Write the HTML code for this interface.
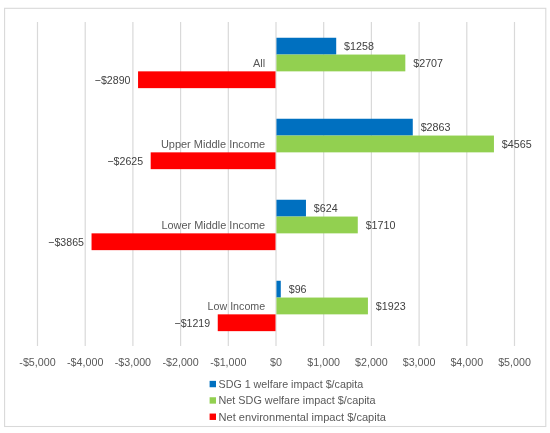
<!DOCTYPE html>
<html><head><meta charset="utf-8"><title>Chart</title>
<style>
html,body{margin:0;padding:0;background:#fff;}
body{width:550px;height:433px;overflow:hidden;}
svg{display:block;}
text{font-family:"Liberation Sans",sans-serif;font-size:11px;}
.ax{fill:#595959;}
.dl{fill:#404040;}
</style></head><body>
<svg width="550" height="433" viewBox="0 0 550 433">
<rect x="0" y="0" width="550" height="433" fill="#ffffff"/>
<rect x="4.6" y="8.3" width="541.2" height="418.2" fill="#ffffff" stroke="#d9d9d9" stroke-width="1.1"/>

<line x1="37.50" y1="22" x2="37.50" y2="346" stroke="#d9d9d9" stroke-width="1.2"/>
<line x1="85.20" y1="22" x2="85.20" y2="346" stroke="#d9d9d9" stroke-width="1.2"/>
<line x1="132.90" y1="22" x2="132.90" y2="346" stroke="#d9d9d9" stroke-width="1.2"/>
<line x1="180.60" y1="22" x2="180.60" y2="346" stroke="#d9d9d9" stroke-width="1.2"/>
<line x1="228.30" y1="22" x2="228.30" y2="346" stroke="#d9d9d9" stroke-width="1.2"/>
<line x1="276.00" y1="22" x2="276.00" y2="346" stroke="#d9d9d9" stroke-width="1.2"/>
<line x1="323.70" y1="22" x2="323.70" y2="346" stroke="#d9d9d9" stroke-width="1.2"/>
<line x1="371.40" y1="22" x2="371.40" y2="346" stroke="#d9d9d9" stroke-width="1.2"/>
<line x1="419.10" y1="22" x2="419.10" y2="346" stroke="#d9d9d9" stroke-width="1.2"/>
<line x1="466.80" y1="22" x2="466.80" y2="346" stroke="#d9d9d9" stroke-width="1.2"/>
<line x1="514.50" y1="22" x2="514.50" y2="346" stroke="#d9d9d9" stroke-width="1.2"/>
<rect x="276.45" y="37.75" width="59.76" height="16.80" fill="#0070c0"/>
<text class="dl" x="344.11" y="50.15" textLength="29.81" lengthAdjust="spacingAndGlyphs">$1258</text>
<rect x="276.45" y="54.55" width="128.87" height="16.80" fill="#92d050"/>
<text class="dl" x="413.22" y="66.95" textLength="29.81" lengthAdjust="spacingAndGlyphs">$2707</text>
<rect x="138.05" y="71.35" width="137.45" height="16.80" fill="#ff0000"/>
<text class="dl" x="94.78" y="83.75" textLength="35.66" lengthAdjust="spacingAndGlyphs">−$2890</text>
<text class="ax" x="253.00" y="66.70" textLength="12.20" lengthAdjust="spacingAndGlyphs">All</text>
<rect x="276.45" y="118.75" width="136.32" height="16.80" fill="#0070c0"/>
<text class="dl" x="420.67" y="131.15" textLength="29.81" lengthAdjust="spacingAndGlyphs">$2863</text>
<rect x="276.45" y="135.55" width="217.50" height="16.80" fill="#92d050"/>
<text class="dl" x="501.85" y="147.95" textLength="29.81" lengthAdjust="spacingAndGlyphs">$4565</text>
<rect x="150.69" y="152.35" width="124.81" height="16.80" fill="#ff0000"/>
<text class="dl" x="107.42" y="164.75" textLength="35.66" lengthAdjust="spacingAndGlyphs">−$2625</text>
<text class="ax" x="160.89" y="147.70" textLength="104.31" lengthAdjust="spacingAndGlyphs">Upper Middle Income</text>
<rect x="276.45" y="199.75" width="29.51" height="16.80" fill="#0070c0"/>
<text class="dl" x="313.86" y="212.15" textLength="23.84" lengthAdjust="spacingAndGlyphs">$624</text>
<rect x="276.45" y="216.55" width="81.32" height="16.80" fill="#92d050"/>
<text class="dl" x="365.67" y="228.95" textLength="29.81" lengthAdjust="spacingAndGlyphs">$1710</text>
<rect x="91.54" y="233.35" width="183.96" height="16.80" fill="#ff0000"/>
<text class="dl" x="48.28" y="245.75" textLength="35.66" lengthAdjust="spacingAndGlyphs">−$3865</text>
<text class="ax" x="161.40" y="228.70" textLength="103.80" lengthAdjust="spacingAndGlyphs">Lower Middle Income</text>
<rect x="276.45" y="280.75" width="4.33" height="16.80" fill="#0070c0"/>
<text class="dl" x="288.68" y="293.15" textLength="17.88" lengthAdjust="spacingAndGlyphs">$96</text>
<rect x="276.45" y="297.55" width="91.48" height="16.80" fill="#92d050"/>
<text class="dl" x="375.83" y="309.95" textLength="29.81" lengthAdjust="spacingAndGlyphs">$1923</text>
<rect x="217.75" y="314.35" width="57.75" height="16.80" fill="#ff0000"/>
<text class="dl" x="174.49" y="326.75" textLength="35.66" lengthAdjust="spacingAndGlyphs">−$1219</text>
<text class="ax" x="207.56" y="309.70" textLength="57.64" lengthAdjust="spacingAndGlyphs">Low Income</text>
<text class="ax" x="19.33" y="365.60" textLength="36.34" lengthAdjust="spacingAndGlyphs">-$5,000</text>
<text class="ax" x="67.03" y="365.60" textLength="36.34" lengthAdjust="spacingAndGlyphs">-$4,000</text>
<text class="ax" x="114.73" y="365.60" textLength="36.34" lengthAdjust="spacingAndGlyphs">-$3,000</text>
<text class="ax" x="162.43" y="365.60" textLength="36.34" lengthAdjust="spacingAndGlyphs">-$2,000</text>
<text class="ax" x="210.13" y="365.60" textLength="36.34" lengthAdjust="spacingAndGlyphs">-$1,000</text>
<text class="ax" x="270.04" y="365.60" textLength="11.93" lengthAdjust="spacingAndGlyphs">$0</text>
<text class="ax" x="307.33" y="365.60" textLength="32.74" lengthAdjust="spacingAndGlyphs">$1,000</text>
<text class="ax" x="355.03" y="365.60" textLength="32.74" lengthAdjust="spacingAndGlyphs">$2,000</text>
<text class="ax" x="402.73" y="365.60" textLength="32.74" lengthAdjust="spacingAndGlyphs">$3,000</text>
<text class="ax" x="450.43" y="365.60" textLength="32.74" lengthAdjust="spacingAndGlyphs">$4,000</text>
<text class="ax" x="498.13" y="365.60" textLength="32.74" lengthAdjust="spacingAndGlyphs">$5,000</text>
<rect x="209.6" y="380.85" width="6.4" height="6.4" fill="#0070c0"/>
<text class="ax" x="218.50" y="387.80" textLength="144.66" lengthAdjust="spacingAndGlyphs">SDG 1 welfare impact $/capita</text>
<rect x="209.6" y="397.25" width="6.4" height="6.4" fill="#92d050"/>
<text class="ax" x="218.50" y="404.20" textLength="157.13" lengthAdjust="spacingAndGlyphs">Net SDG welfare impact $/capita</text>
<rect x="209.6" y="413.55" width="6.4" height="6.4" fill="#ff0000"/>
<text class="ax" x="218.50" y="420.50" textLength="167.47" lengthAdjust="spacingAndGlyphs">Net environmental impact $/capita</text>
</svg></body></html>
